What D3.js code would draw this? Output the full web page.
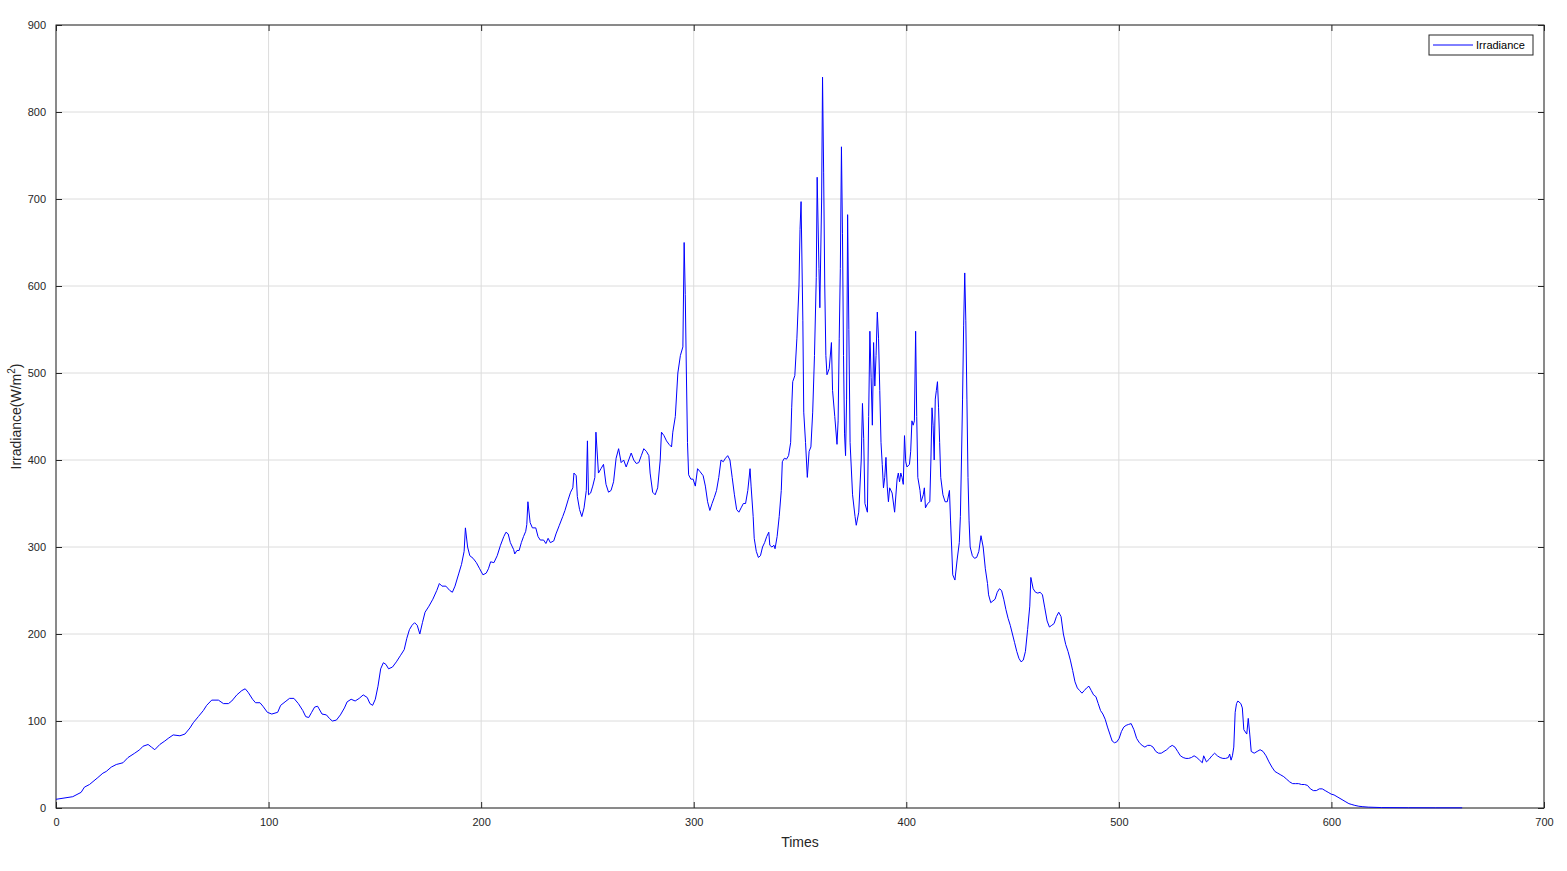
<!DOCTYPE html>
<html><head><meta charset="utf-8">
<script src="https://cdn.jsdelivr.net/npm/d3@7"></script>
<style>body{margin:0;background:#fff;font-family:"Liberation Sans",Arial,sans-serif}</style>
</head><body><div id="chart"></div>
<script>
// samples: position along the trace (read units) and irradiance
const readPos = [0,10,15,17,20,25,28,30,33,36,40,43,47,50,52,55,57,59,62,65,67,70,74,77,80,82,85,88,90,93,97,100,103,105,108,111,113,115,118,120,123,125,128,131,135,137,140,143,146,149,152,154,156,158,160,162,163,165,168,170,172,175,178,181,183,186,189,192,195,198,200,202,204,206,208,210,212,214,217,220,223,226,228,230,232,234,236,238,240,242,245,248,251,253,255,258,261,263,265,268,270,272,273,275,277,280,283,286,289,292,294,296,299,302,305,308,310,312,314,317,318,320,322,324,326,328,329,330,332,334,337,339,341,344,346,348,350,353,355,358,361,363,366,368,370,371,373,374,376,378,380,382,383,384,386,388,390,391,393,395,397,399,401,403,405,407,409,411,413,415,417,419,421,423,425,427,429,431,433,434,436,438,440,442,443,445,447,449,451,452,454,456,458,460,461,462,463,464,465,467,469,471,473,475,478,480,482,484,486,488,490,492,494,496,498,500,502,504,506,508,510,512,514,516,518,520,521,523,524,526,528,530,532,534,536,538,539,541,543,544,546,548,550,551,553,555,557,559,560,561,563,565,567,568,569,571,572,574,576,578,580,582,584,586,587,589,590,592,593,594,595,596,597,599,601,602,604,606,607,608,609,610,611,612,613,614,615,616,617,618,620,622,623,625,627,628,629,630,632,633,634,635,636,637,638,639,640,641,642,643,644,645,646,647,648,649,650,652,654,656,657,658,659,660,661,662,663,664,666,667,668,669,670,671,672,673,675,676,678,679,680,682,684,685,686,687,688,689,690,691,692,693,694,696,698,700,702,703,704,705,707,709,711,712,713,714,715,716,717,718,719,720,721,723,725,727,729,731,733,735,737,738,740,742,744,746,748,750,752,754,756,758,760,762,764,766,768,770,772,774,776,777,779,781,783,785,787,789,791,793,795,797,799,801,803,805,807,809,811,813,815,817,819,821,823,825,827,829,831,833,835,837,839,841,843,845,847,849,851,853,855,857,859,861,863,865,867,869,871,873,875,877,879,881,883,885,887,889,891,893,895,897,899,901,903,905,907,909,911,913,915,916,918,920,922,924,926,928,930,932,934,935,936,937,938,939,940,941,943,944,945,947,948,949,950,952,954,956,958,960,962,964,966,968,970,972,974,976,978,980,982,984,986,988,990,992,994,996,998,1000,1002,1004,1006,1008,1010,1012,1014,1016,1018,1020,1023,1026,1030,1040,1060,1080,1100];
const irradiance = [10,13,18,24,27,35,40,42,47,50,52,58,63,67,71,73,70,67,73,77,80,84,83,85,92,98,105,112,118,124,124,120,120,123,130,135,137,133,125,121,121,117,110,108,110,118,122,126,126,120,112,105,104,110,116,117,114,108,107,103,100,101,107,115,122,125,123,126,130,127,120,118,125,140,160,167,165,160,162,168,175,182,195,205,210,213,210,200,213,225,232,240,250,258,255,255,250,248,255,270,280,295,322,300,290,287,282,275,268,270,275,283,282,290,302,312,317,315,305,297,292,296,296,305,312,318,326,352,328,322,322,312,308,308,304,310,305,307,315,325,335,342,355,363,368,385,382,358,343,335,345,365,422,360,362,370,380,432,385,390,395,372,363,365,375,402,413,397,400,392,400,408,400,396,397,405,413,410,405,385,363,360,368,400,432,428,422,418,415,432,450,500,520,530,650,590,500,420,383,378,378,370,390,387,382,370,352,342,350,357,365,380,400,398,402,405,400,380,360,343,340,345,350,350,365,390,370,335,310,295,288,290,300,305,312,317,302,300,302,298,312,335,365,398,402,401,405,420,460,490,497,540,600,665,697,560,455,420,380,410,415,455,520,610,725,620,575,700,840,730,600,520,498,505,535,480,450,418,445,540,620,760,660,520,430,405,470,682,550,420,360,335,325,340,400,465,425,350,340,450,548,495,440,535,485,520,570,540,480,420,395,368,380,403,370,352,368,362,340,378,385,375,385,380,372,428,398,392,395,410,445,440,445,548,450,380,365,352,360,368,345,350,352,400,460,440,400,470,480,490,460,420,380,360,352,352,365,330,300,268,262,285,305,335,400,470,555,615,560,470,380,330,300,290,287,288,295,313,300,275,258,245,236,238,240,248,252,250,240,228,218,210,200,190,180,172,168,170,180,205,232,265,252,248,247,248,245,230,215,208,210,212,220,225,220,200,188,180,170,158,145,138,135,132,135,138,140,135,130,128,120,112,108,102,93,85,77,75,76,80,88,93,95,96,97,90,80,75,72,70,72,72,70,65,63,63,65,67,70,72,70,65,60,58,57,57,58,60,58,55,52,60,53,56,60,63,60,58,57,57,58,62,55,60,70,110,120,123,120,115,90,85,103,85,65,63,65,67,65,60,53,47,42,40,38,36,33,30,28,28,28,27,27,26,22,20,20,22,22,20,18,16,15,13,11,9,7,5,4,3,2,1.5,1,0.5,0.3,0.2,0.2];
// calibration: read position -> Times, from recognisable peaks and troughs
const calRead  = [0,113,172,210,273,330,383,391,461,520,569,593,610,616,671,716,777,861,941,1020,1100];
const calTimes = [0,89,130,154,192.6,222,250,254,295.5,326.5,350.5,360.6,369.5,372.4,404.4,427.5,458.6,504.5,556,611,661.5];
const xTicks = [0,100,200,300,400,500,600,700];
const yTicks = [0,100,200,300,400,500,600,700,800,900];

const W = 1567, H = 871;
const margin = {left: 56, right: 23, top: 25, bottom: 63};
const svg = d3.select("#chart").append("svg").attr("width", W).attr("height", H);

const cal = d3.scaleLinear().domain(calRead).range(calTimes);
const x = d3.scaleLinear().domain([0, 700]).range([margin.left, W - margin.right]);
const y = d3.scaleLinear().domain([0, 900]).range([H - margin.bottom, margin.top]);

// grid
svg.append("g").selectAll("line").data(xTicks).enter().append("line")
  .attr("x1", d => x(d)).attr("x2", d => x(d)).attr("y1", y(0)).attr("y2", y(900))
  .attr("stroke", "#dcdcdc");
svg.append("g").selectAll("line").data(yTicks).enter().append("line")
  .attr("y1", d => y(d)).attr("y2", d => y(d)).attr("x1", x(0)).attr("x2", x(700))
  .attr("stroke", "#dcdcdc");

// axes with inward ticks
const styleAxis = g => {
  g.select(".domain").remove();
  g.selectAll("text").attr("font-size", "11px").attr("fill", "#262626")
    .attr("font-family", "Liberation Sans, Arial, sans-serif");
  g.selectAll("line").attr("stroke", "#262626");
};
svg.append("g").attr("transform", `translate(0,${y(0)})`)
  .call(d3.axisBottom(x).tickValues(xTicks).tickSizeInner(-6).tickPadding(10)).call(styleAxis);
svg.append("g").attr("transform", `translate(${x(0)},0)`)
  .call(d3.axisLeft(y).tickValues(yTicks).tickSizeInner(-6).tickPadding(10)).call(styleAxis);
svg.append("g").attr("transform", `translate(0,${y(900)})`)
  .call(d3.axisTop(x).tickValues(xTicks).tickSizeInner(-6).tickFormat("")).call(styleAxis);
svg.append("g").attr("transform", `translate(${x(700)},0)`)
  .call(d3.axisRight(y).tickValues(yTicks).tickSizeInner(-6).tickFormat("")).call(styleAxis);

svg.append("rect").attr("x", x(0)).attr("y", y(900))
  .attr("width", x(700) - x(0)).attr("height", y(0) - y(900))
  .attr("fill", "none").attr("stroke", "#262626");

// line
const pts = readPos.map((p, i) => [cal(p), irradiance[i]]);
svg.append("path").datum(pts)
  .attr("d", d3.line().x(d => x(d[0])).y(d => y(d[1])))
  .attr("fill", "none").attr("stroke", "#0000ff").attr("stroke-width", 1);

// labels
svg.append("text").attr("x", (x(0) + x(700)) / 2).attr("y", 847)
  .attr("text-anchor", "middle").attr("font-size", "14px").attr("fill", "#262626").text("Times");
const yl = svg.append("text").attr("transform", `translate(21,${(y(0) + y(900)) / 2}) rotate(-90)`)
  .attr("text-anchor", "middle").attr("font-size", "14px").attr("fill", "#262626");
yl.append("tspan").text("Irradiance(W/m");
yl.append("tspan").attr("dy", -6).attr("font-size", "10px").text("2");
yl.append("tspan").attr("dy", 6).text(")");

// legend
const lg = svg.append("g").attr("transform", "translate(1429,35)");
lg.append("rect").attr("width", 104).attr("height", 20).attr("fill", "#fff").attr("stroke", "#262626");
lg.append("line").attr("x1", 4).attr("x2", 44).attr("y1", 10).attr("y2", 10).attr("stroke", "#0000ff");
lg.append("text").attr("x", 47).attr("y", 14).attr("font-size", "11px").attr("fill", "#000").text("Irradiance");
</script></body></html>
